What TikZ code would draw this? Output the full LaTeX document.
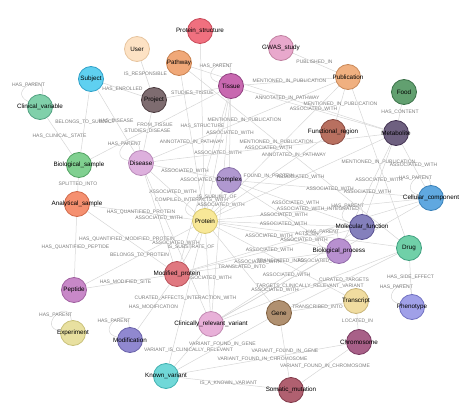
\documentclass[tikz,border=0pt]{standalone}
\usepackage{fontspec}
\setmainfont{Liberation Sans}
\usetikzlibrary{backgrounds}
\definecolor{edgec}{HTML}{D6D6D6}
\definecolor{labc}{HTML}{7C7C7C}
\newcommand\kgnode[5]{%
  \definecolor{f#1}{HTML}{#4}\definecolor{d#1}{HTML}{#5}%
  \node[ent, fill=f#1, draw=d#1, label={[ntxt]center:#3}] (#1) at (#2) {};}
\begin{document}
\begin{tikzpicture}[x=1pt,y=-1pt,
  ent/.style={circle, minimum size=25pt, inner sep=0pt, line width=0.8pt},
  ntxt/.style={font=\fontsize{6.3}{7}\selectfont, text=black, inner sep=0pt},
  edge/.style={draw=edgec, line width=0.5pt},
  elab/.style={font=\fontsize{5}{5.5}\selectfont, text=labc, inner sep=0.3pt},
  selfloop/.style={edge, looseness=4}
]
\useasboundingbox (0,0) rectangle (474,404);

\kgnode{pstruct}{200,31}{Protein\_structure}{F0707F}{C84858}
\kgnode{user}{137,49}{User}{FDE2C4}{E6C49E}
\kgnode{pathway}{179,63}{Pathway}{F0A878}{C8804E}
\kgnode{subject}{91,79}{Subject}{5FD0F0}{2FA0C8}
\kgnode{project}{154,100}{Project}{7E6C70}{4A3A3E}
\kgnode{tissue}{231,86}{Tissue}{C868B0}{904080}
\kgnode{cv}{40,107}{Clinical\_variable}{80D0AA}{50A080}
\kgnode{gwas}{281,48}{GWAS\_study}{E8A8CC}{C080A0}
\kgnode{publication}{348,77}{Publication}{F0B080}{C88858}
\kgnode{food}{404,92}{Food}{62A070}{3A7048}
\kgnode{funcreg}{333,132}{Functional\_region}{B87060}{884840}
\kgnode{metabolite}{396,133}{Metabolite}{6E6080}{403050}
\kgnode{biosample}{79,165}{Biological\_sample}{80D090}{50A060}
\kgnode{disease}{141,163}{Disease}{DDB0DD}{B888B8}
\kgnode{complex}{229,180}{Complex}{B098D0}{8870A8}
\kgnode{asample}{77,204}{Analytical\_sample}{F59070}{D06848}
\kgnode{protein}{205,221}{Protein}{F8E898}{D8C870}
\kgnode{cellcomp}{431,198}{Cellular\_component}{60A8E0}{3880B8}
\kgnode{molfunc}{362,227}{Molecular\_function}{8480BC}{585090}
\kgnode{bioproc}{339,251}{Biological\_process}{B890D0}{9068A8}
\kgnode{drug}{409,248}{Drug}{70D0A8}{40A080}
\kgnode{modprot}{177,274}{Modified\_protein}{E07880}{B85058}
\kgnode{peptide}{74,290}{Peptide}{C888C8}{A060A0}
\kgnode{experiment}{73,333}{Experiment}{E8E0A0}{C8C078}
\kgnode{modification}{130,340}{Modification}{9088D0}{6860A8}
\kgnode{crv}{211,324}{Clinically\_relevant\_variant}{E8B0D8}{C088B0}
\kgnode{knownvar}{166,376}{Known\_variant}{70D8D8}{40B0B0}
\kgnode{transcript}{356,301}{Transcript}{F0DCA0}{C8B478}
\kgnode{phenotype}{412,307}{Phenotype}{A0A0E8}{7070C0}
\kgnode{gene}{279,313}{Gene}{B09070}{806040}
\kgnode{chromosome}{359,342}{Chromosome}{A86088}{7A3A60}
\kgnode{somatic}{291,390}{Somatic\_mutation}{B06070}{803848}

\begin{scope}[on background layer]
% self loops
\draw[selfloop] (cv) to[out=80,in=155] node[elab,pos=0.5]{HAS\_PARENT} (cv);
\draw[selfloop] (tissue) to[out=90,in=164] node[elab,pos=0.5]{HAS\_PARENT} (tissue);
\draw[selfloop] (disease) to[out=95,in=169] node[elab,pos=0.5]{HAS\_PARENT} (disease);
\draw[selfloop] (cellcomp) to[out=92,in=166] node[elab,pos=0.5]{HAS\_PARENT} (cellcomp);
\draw[selfloop] (molfunc) to[out=88,in=162] node[elab,pos=0.5]{HAS\_PARENT} (molfunc);
\draw[selfloop] (bioproc) to[out=94,in=168] node[elab,pos=0.5]{HAS\_PARENT} (bioproc);
\draw[selfloop] (experiment) to[out=97,in=171] node[elab,pos=0.5]{HAS\_PARENT} (experiment);
\draw[selfloop] (modification) to[out=93,in=167] node[elab,pos=0.5]{HAS\_PARENT} (modification);
\draw[selfloop] (phenotype) to[out=92,in=166] node[elab,pos=0.5]{HAS\_PARENT} (phenotype);
\draw[selfloop] (protein) to[out=86,in=160] node[elab,pos=0.5]{COMPILED\_INTERACTS\_WITH} (protein);
% edges
\draw[edge] (user) -- node[elab]{IS\_RESPONSIBLE} (project);
\draw[edge] (subject) -- node[elab]{HAS\_ENROLLED} (project);
\draw[edge] (project) -- node[elab]{STUDIES\_TISSUE} (tissue);
\draw[edge] (subject) -- node[elab]{HAS\_DISEASE} (disease);
\draw[edge] (biosample) -- node[elab]{BELONGS\_TO\_SUBJECT} (subject);
\draw[edge] (biosample) -- node[elab]{FROM\_TISSUE} (tissue);
\draw[edge] (protein) -- node[elab]{HAS\_STRUCTURE} (pstruct);
\draw[edge] (disease) -- node[elab]{MENTIONED\_IN\_PUBLICATION} (publication);
\draw[edge] (project) -- node[elab]{STUDIES\_DISEASE} (disease);
\draw[edge] (biosample) -- node[elab]{HAS\_CLINICAL\_STATE} (cv);
\draw[edge] (tissue) -- node[elab]{ASSOCIATED\_WITH} (complex);
\draw[edge] (gwas) -- node[elab]{PUBLISHED\_IN} (publication);
\draw[edge] (tissue) -- node[elab]{MENTIONED\_IN\_PUBLICATION} (publication);
\draw[edge] (metabolite) -- node[elab]{ANNOTATED\_IN\_PATHWAY} (pathway);
\draw[edge] (funcreg) -- node[elab]{MENTIONED\_IN\_PUBLICATION} (publication);
\draw[edge] (metabolite) -- node[elab]{ASSOCIATED\_WITH} (tissue);
\draw[edge] (food) -- node[elab]{HAS\_CONTENT} (metabolite);
\draw[edge] (protein) -- node[elab]{ANNOTATED\_IN\_PATHWAY} (pathway);
\draw[edge] (protein) -- node[elab]{ASSOCIATED\_WITH} (tissue);
\draw[edge] (disease) -- node[elab]{ASSOCIATED\_WITH} (complex);
\draw[edge] (modprot) -- node[elab]{ASSOCIATED\_WITH} (tissue);
\draw[edge] (disease) -- node[elab]{ASSOCIATED\_WITH} (protein);
\draw[edge] (protein) -- node[elab,yshift=3.5pt]{IS\_SUBUNIT\_OF} (complex);
\draw[edge] (tissue) -- node[elab]{ASSOCIATED\_WITH} (crv);
\draw[edge] (asample) -- node[elab]{HAS\_QUANTIFIED\_PROTEIN} (protein);
\draw[edge] (disease) -- node[elab]{ASSOCIATED\_WITH} (modprot);
\draw[edge] (asample) -- node[elab]{HAS\_QUANTIFIED\_MODIFIED\_PROTEIN} (modprot);
\draw[edge] (asample) -- node[elab]{HAS\_QUANTIFIED\_PEPTIDE} (peptide);
\draw[edge] (disease) -- node[elab]{ASSOCIATED\_WITH} (crv);
\draw[edge] (modprot) -- node[elab]{IS\_SUBSTRATE\_OF} (protein);
\draw[edge] (peptide) -- node[elab]{BELONGS\_TO\_PROTEIN} (protein);
\draw[edge] (biosample) -- node[elab]{SPLITTED\_INTO} (asample);
\draw[edge] (protein) -- node[elab,yshift=7pt]{MENTIONED\_IN\_PUBLICATION} (publication);
\draw[edge] (disease) -- node[elab]{ASSOCIATED\_WITH} (metabolite);
\draw[edge] (drug) -- node[elab]{ANNOTATED\_IN\_PATHWAY} (pathway);
\draw[edge] (drug) -- node[elab]{MENTIONED\_IN\_PUBLICATION} (publication);
\draw[edge] (metabolite) -- node[elab]{ASSOCIATED\_WITH} (cellcomp);
\draw[edge] (funcreg) -- node[elab]{FOUND\_IN\_PROTEIN} (protein);
\draw[edge] (protein) -- node[elab]{ASSOCIATED\_WITH} (metabolite);
\draw[edge] (metabolite) -- node[elab]{ASSOCIATED\_WITH} (molfunc);
\draw[edge] (complex) -- node[elab]{ASSOCIATED\_WITH} (cellcomp);
\draw[edge] (metabolite) -- node[elab]{ASSOCIATED\_WITH} (bioproc);
\draw[edge] (complex) -- node[elab]{ASSOCIATED\_WITH} (molfunc);
\draw[edge] (protein) -- node[elab]{ASSOCIATED\_WITH\_INTEGRATED} (cellcomp);
\draw[edge] (complex) -- node[elab]{ASSOCIATED\_WITH} (bioproc);
\draw[edge] (protein) -- node[elab]{ASSOCIATED\_WITH} (molfunc);
\draw[edge] (protein) -- node[elab,xshift=-3pt]{ASSOCIATED\_WITH} (bioproc);
\draw[edge] (drug) -- node[elab]{ACTS\_ON} (protein);
\draw[edge] (modprot) -- node[elab,yshift=-4pt]{ASSOCIATED\_WITH} (cellcomp);
\draw[edge] (crv) -- node[elab]{ASSOCIATED\_WITH} (cellcomp);
\draw[edge] (modprot) -- node[elab]{ASSOCIATED\_WITH} (molfunc);
\draw[edge] (transcript) -- node[elab]{TRANSLATED\_INTO} (protein);
\draw[edge] (modprot) -- node[elab]{ASSOCIATED\_WITH} (bioproc);
\draw[edge] (gene) -- node[elab]{TRANSLATED\_INTO} (protein);
\draw[edge] (crv) -- node[elab]{ASSOCIATED\_WITH} (molfunc);
\draw[edge] (drug) -- node[elab]{TARGETS\_CLINICALLY\_RELEVANT\_VARIANT} (crv);
\draw[edge] (protein) -- node[elab,yshift=-6pt]{ASSOCIATED\_WITH} (crv);
\draw[edge] (knownvar) -- node[elab]{CURATED\_AFFECTS\_INTERACTION\_WITH} (protein);
\draw[edge] (crv) -- node[elab,yshift=-3pt]{ASSOCIATED\_WITH} (bioproc);
\draw[edge] (drug) -- node[elab]{CURATED\_TARGETS} (gene);
\draw[edge] (modprot) -- node[elab]{HAS\_MODIFICATION} (modification);
\draw[edge] (peptide) -- node[elab]{HAS\_MODIFIED\_SITE} (modprot);
\draw[edge] (knownvar) -- node[elab]{VARIANT\_IS\_CLINICALLY\_RELEVANT} (crv);
\draw[edge] (knownvar) -- node[elab]{VARIANT\_FOUND\_IN\_GENE} (gene);
\draw[edge] (knownvar) -- node[elab]{VARIANT\_FOUND\_IN\_CHROMOSOME} (chromosome);
\draw[edge] (somatic) -- node[elab]{VARIANT\_FOUND\_IN\_GENE} (gene);
\draw[edge] (somatic) -- node[elab]{VARIANT\_FOUND\_IN\_CHROMOSOME} (chromosome);
\draw[edge] (knownvar) -- node[elab]{IS\_A\_KNOWN\_VARIANT} (somatic);
\draw[edge] (gene) -- node[elab]{TRANSCRIBED\_INTO} (transcript);
\draw[edge] (drug) -- node[elab]{HAS\_SIDE\_EFFECT} (phenotype);
\draw[edge] (transcript) -- node[elab]{LOCATED\_IN} (chromosome);
\end{scope}
\end{tikzpicture}
\end{document}
